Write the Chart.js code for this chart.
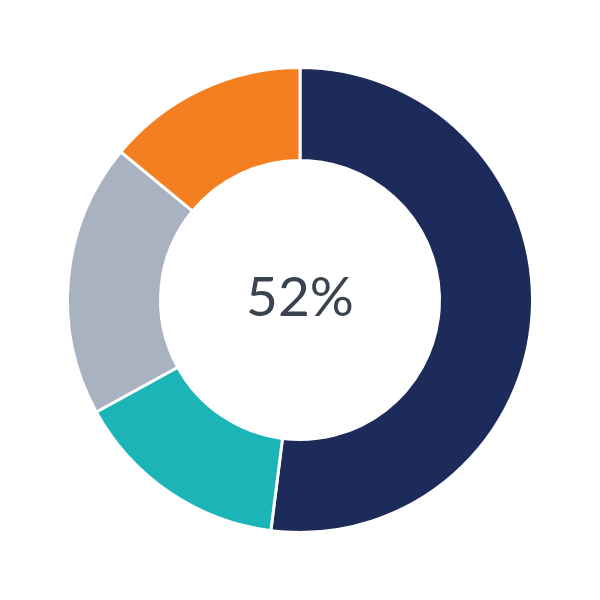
<!DOCTYPE html>
<html>
<head>
<meta charset="utf-8">
<script src="https://cdn.jsdelivr.net/npm/chart.js@4"></script>
<style>
  html, body { margin: 0; padding: 0; background: #fff; }
  #wrap { width: 600px; height: 600px; position: relative; }
</style>
</head>
<body>
<div id="wrap"><canvas id="donut"></canvas></div>
<script>
  // Share of each segment, clockwise from top
  const labels = ['Navy', 'Teal', 'Gray', 'Orange'];
  const values = [52, 15, 19, 14];
  const colors = ['#1c2b5a', '#1bb5b8', '#a8b2c1', '#f47f20'];
  const centerLabel = '52%';

  // draws the big percentage in the hole
  const centerText = {
    id: 'centerText',
    afterDraw(chart) {
      const { ctx } = chart;
      const meta = chart.getDatasetMeta(0).data[0];
      ctx.save();
      ctx.font = '400 55px Lato';
      ctx.fillStyle = '#3b4350';
      ctx.textAlign = 'center';
      ctx.textBaseline = 'middle';
      ctx.fillText(centerLabel, meta.x, meta.y - 2);
      ctx.restore();
    }
  };

  new Chart(document.getElementById('donut'), {
    type: 'doughnut',
    data: {
      labels,
      datasets: [{
        data: values,
        backgroundColor: colors,
        borderColor: '#ffffff',
        borderWidth: 3
      }]
    },
    options: {
      responsive: true,
      maintainAspectRatio: false,
      animation: false,
      cutout: '60%',
      layout: { padding: 66 },
      plugins: {
        legend: { display: false },
        tooltip: { enabled: false }
      }
    },
    plugins: [centerText]
  });
</script>
</body>
</html>
